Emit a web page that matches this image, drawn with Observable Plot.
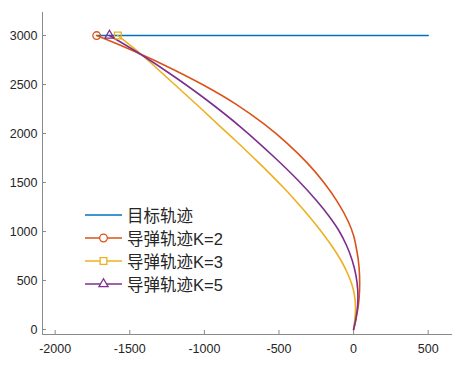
<!DOCTYPE html>
<html><head><meta charset="utf-8">
<script src="https://cdn.jsdelivr.net/npm/d3@7"></script>
<script src="https://cdn.jsdelivr.net/npm/@observablehq/plot@0.6"></script>
<style>
body{margin:0;background:#fff;}
#wrap{position:relative;width:474px;height:366px;overflow:hidden;}
.row{position:absolute;left:85px;height:20px;display:flex;align-items:center;white-space:nowrap;font-family:"Liberation Sans","Noto Sans CJK SC",sans-serif;font-size:16.5px;color:#262626;}
.row svg{display:block;margin-right:5px;}
</style></head><body><div id="wrap"></div>
<script>
// ---- data ----
const xTicks = [-2000, -1500, -1000, -500, 0, 500];
const yTicks = [0, 500, 1000, 1500, 2000, 2500, 3000];
const seriesNames = ["目标轨迹", "导弹轨迹K=2", "导弹轨迹K=3", "导弹轨迹K=5"];
const targetX = [500, -1720];
const targetY = [3000, 3000];
const k2X = [0, 17, 32, 40, 40, 32, 15, 0, -35, -107, -199, -311, -445, -603, -789, -1013, -1271, -1563, -1722];
const k2Y = [0, 112, 245, 398, 551, 704, 857, 959, 1100, 1300, 1500, 1700, 1900, 2100, 2300, 2500, 2700, 2900, 3000];
const k3X = [0, 9, 13, 7, -9, -43, -84, -148, -222, -303, -390, -470, -582, -672, -792, -886, -1023, -1222, -1445, -1580];
const k3Y = [0, 112, 224, 337, 449, 582, 704, 857, 1010, 1163, 1316, 1449, 1622, 1755, 1929, 2061, 2255, 2531, 2837, 3000];
const k5X = [0, 13, 27, 28, 16, -9, -47, -99, -168, -249, -371, -529, -745, -980, -1203, -1425, -1636];
const k5Y = [0, 92, 245, 398, 551, 704, 857, 1010, 1163, 1316, 1520, 1755, 2051, 2337, 2582, 2806, 3000];

const colors = ["#0072BD", "#D95319", "#EDB120", "#7E2F8E"];
const symbols = [null, "circle", "square", "triangle"];

const toPts = (xs, ys) => xs.map((x, i) => ({x, y: ys[i]}));
const series = [toPts(targetX, targetY), toPts(k2X, k2Y), toPts(k3X, k3Y), toPts(k5X, k5Y)];

const W = 474, H = 366, mL = 42, mR = 22, mT = 12, mB = 32;
const plotW = W - mL - mR, plotH = H - mT - mB;
const xDomain = [-2085, 663], yDomain = [-51, 3235];
const axisColor = "#8a8a8a";

const marks = [
  Plot.ruleX([xDomain[0]], {stroke: axisColor}),
  Plot.ruleY([yDomain[0]], {stroke: axisColor}),
  Plot.ruleX(xTicks, {x: d => d, insetTop: plotH - 4, stroke: axisColor}),
  Plot.ruleY(yTicks, {y: d => d, insetRight: plotW - 4, stroke: axisColor}),
  Plot.axisX(xTicks, {tickSize: 0, tickPadding: 10, tickFormat: d => String(d), label: null}),
  Plot.axisY(yTicks, {tickSize: 0, tickPadding: 5, tickFormat: d => String(d), label: null})
];
series.forEach((pts, i) => {
  marks.push(Plot.line(pts, {x: "x", y: "y", stroke: colors[i], strokeWidth: 1.6, curve: i === 0 ? "linear" : "catmull-rom"}));
});
series.forEach((pts, i) => {
  if (symbols[i]) {
    marks.push(Plot.dot([pts[pts.length - 1]], {x: "x", y: "y", symbol: symbols[i], r: i === 3 ? 3.4 : 3.8, stroke: colors[i], strokeWidth: 1.3, fill: "none"}));
  }
});

const chart = Plot.plot({
  width: W, height: H,
  marginLeft: mL, marginRight: mR, marginTop: mT, marginBottom: mB,
  x: {domain: xDomain},
  y: {domain: yDomain},
  style: {fontFamily: "'Liberation Sans', Arial, sans-serif", fontSize: "12.5px", color: "#262626", background: "#fff"},
  marks
});
const wrap = document.getElementById("wrap");
wrap.appendChild(chart);

// legend (inside the axes, like the original)
const rowCenters = [215, 238, 261, 284];
seriesNames.forEach((name, i) => {
  const row = document.createElement("div");
  row.className = "row";
  row.style.top = (rowCenters[i] - 10) + "px";
  const svg = d3.create("svg").attr("width", 37).attr("height", 20);
  svg.append("line").attr("x1", 0).attr("x2", 37).attr("y1", 10).attr("y2", 10)
    .attr("stroke", colors[i]).attr("stroke-width", 1.6);
  if (symbols[i]) {
    const sym = {circle: d3.symbolCircle, square: d3.symbolSquare, triangle: d3.symbolTriangle}[symbols[i]];
    const r = i === 3 ? 3.4 : 3.8;
    svg.append("path").attr("d", d3.symbol(sym, Math.PI * r * r)())
      .attr("transform", "translate(18.5,10)").attr("fill", "#fff")
      .attr("stroke", colors[i]).attr("stroke-width", 1.3);
  }
  row.appendChild(svg.node());
  const span = document.createElement("span");
  span.textContent = name;
  row.appendChild(span);
  wrap.appendChild(row);
});
</script></body></html>
